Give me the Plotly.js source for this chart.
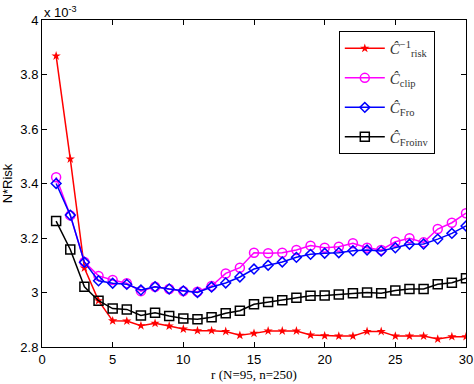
<!DOCTYPE html>
<html><head><meta charset="utf-8">
<script src="https://cdn.plot.ly/plotly-3.0.1.min.js"></script>
<style>html,body{margin:0;padding:0;background:#fff}#chart{width:474px;height:384px}</style>
</head><body><div id="chart"></div>
<script>
// values in units of 1e-3
const r = [1,2,3,4,5,6,7,8,9,10,11,12,13,14,15,16,17,18,19,20,21,22,23,24,25,26,27,28,29,30];
const riskInv = [3.868,3.49,3.09,2.97,2.896,2.895,2.878,2.887,2.877,2.866,2.86,2.86,2.857,2.843,2.85,2.859,2.859,2.859,2.844,2.841,2.84,2.84,2.857,2.857,2.84,2.84,2.84,2.829,2.838,2.838];
const clip = [3.423,3.283,3.112,3.061,3.046,3.034,3.005,3.021,3.013,3.005,3.003,3.024,3.07,3.091,3.146,3.144,3.146,3.156,3.172,3.164,3.168,3.181,3.164,3.156,3.186,3.199,3.184,3.233,3.256,3.291];
const fro = [3.4,3.284,3.111,3.043,3.034,3.03,3.009,3.021,3.013,3.006,3.0,3.02,3.035,3.057,3.086,3.1,3.112,3.129,3.14,3.144,3.146,3.153,3.156,3.152,3.164,3.177,3.178,3.196,3.217,3.244];
const froinv = [3.262,3.158,3.021,2.97,2.941,2.938,2.916,2.926,2.914,2.905,2.902,2.909,2.924,2.933,2.957,2.965,2.972,2.981,2.988,2.989,2.993,2.997,3.0,2.997,3.007,3.013,3.013,3.03,3.036,3.052];
const names = ['<i>Ĉ</i><sup>−1</sup><sub>risk</sub>','<i>Ĉ</i><sub>clip</sub>','<i>Ĉ</i><sub>Fro</sub>','<i>Ĉ</i><sub>Froinv</sub>'];
const xTicks = [0,5,10,15,20,25,30];
const yTicks = [2.8,3,3.2,3.4,3.6,3.8,4];

const traces = [
  {x:r, y:riskInv, name:names[0], legendgroup:'a', mode:'lines+markers', line:{color:'#ff0000',width:1.5}, marker:{symbol:'star',size:7,color:'#ff0000'}},
  {x:r, y:clip, name:names[1], legendgroup:'b', mode:'lines+markers', line:{color:'#ff00ff',width:1.5}, marker:{symbol:'circle-open',size:9,color:'#ff00ff',line:{width:1.5}}},
  {x:r, y:fro, name:names[2], legendgroup:'c', mode:'lines+markers', line:{color:'#0000ff',width:1.5}, marker:{symbol:'diamond-open',size:7.5,color:'#0000ff',line:{width:1.5}}},
  {x:r, y:froinv, name:names[3], legendgroup:'d', mode:'lines+markers', line:{color:'#000000',width:1.5}, marker:{symbol:'square-open',size:9,color:'#000000',line:{width:1.5}}}
];
const axisCommon = {showline:true, linecolor:'#000', linewidth:1, mirror:'ticks', ticks:'inside', ticklen:5, tickcolor:'#000', showgrid:false, zeroline:false, tickfont:{family:'Liberation Sans, Arial', size:13, color:'#000'}};
const layout = {
  width:474, height:384, margin:{l:42, r:8, t:20, b:37},
  paper_bgcolor:'#fff', plot_bgcolor:'#fff', showlegend:true,
  xaxis:Object.assign({}, axisCommon, {range:[0,30], tickvals:xTicks, ticktext:xTicks.map(String),
    title:{text:'r (N=95, n=250)', font:{family:'Liberation Serif, Times New Roman', size:13, color:'#000'}, standoff:4}}),
  yaxis:Object.assign({}, axisCommon, {range:[2.8,4], tickvals:yTicks, ticktext:yTicks.map(String),
    title:{text:'N*Risk', font:{family:'Liberation Sans, Arial', size:13, color:'#000'}, standoff:6}}),
  legend:{x:0.70, y:0.966, xanchor:'left', yanchor:'top', bgcolor:'#fff', bordercolor:'#000', borderwidth:1,
    font:{family:'Liberation Serif, Times New Roman', size:15, color:'#333'}, itemwidth:40, tracegroupgap:7},
  annotations:[{xref:'paper', yref:'paper', x:0, y:1, xanchor:'left', yanchor:'bottom', yshift:-2, showarrow:false,
    text:'x 10<sup>-3</sup>', font:{family:'Liberation Sans, Arial', size:13, color:'#000'}}]
};
Plotly.newPlot('chart', traces, layout, {displayModeBar:false, staticPlot:true});
</script></body></html>
